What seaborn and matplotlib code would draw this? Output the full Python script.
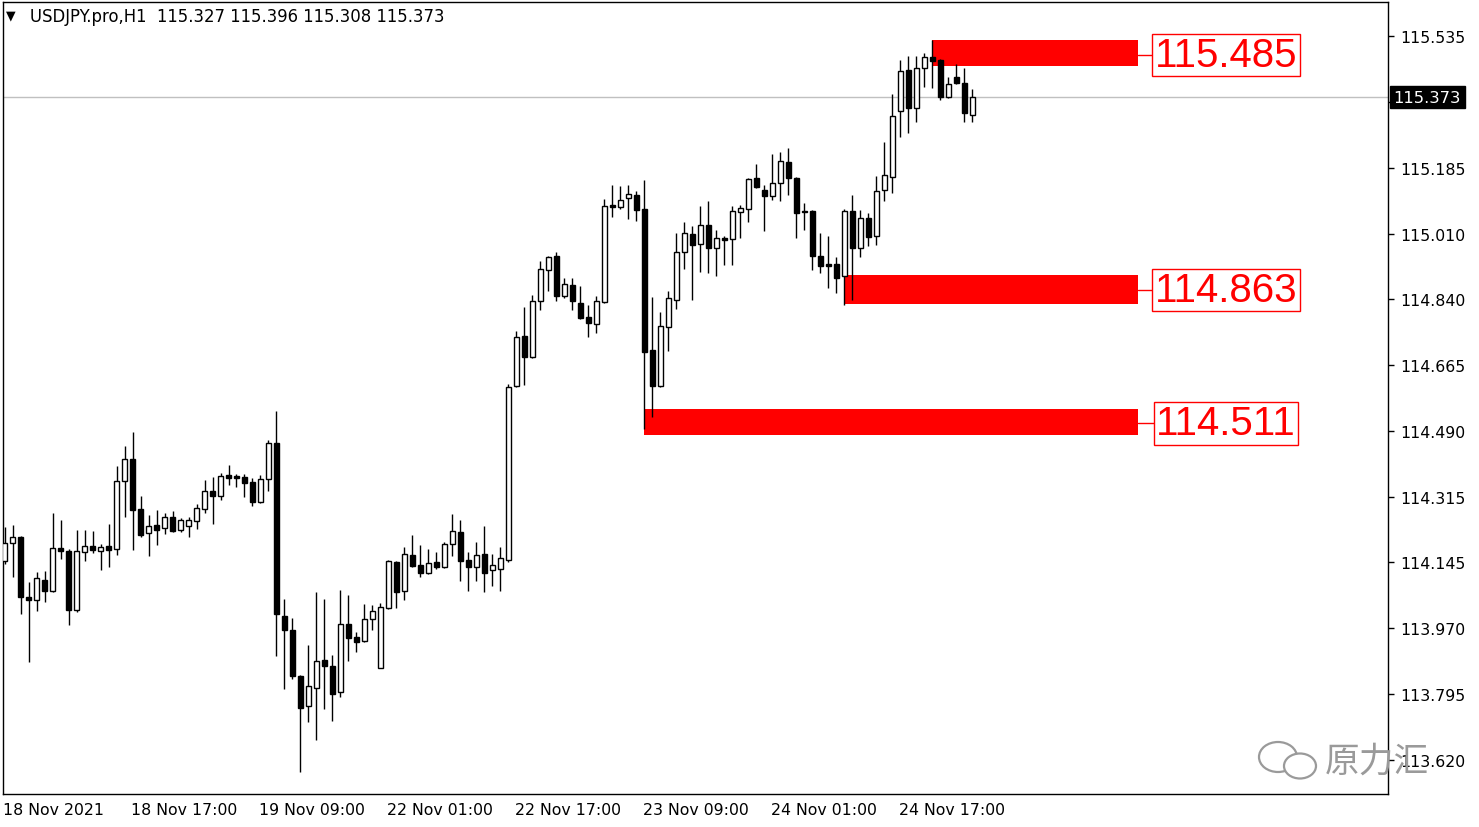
import matplotlib
matplotlib.use("Agg")
import matplotlib.pyplot as plt
import matplotlib.transforms as mtransforms
from matplotlib.patches import Ellipse
import numpy as np
import seaborn as sns

# USDJPY H1 candles
opens = [114.146, 114.194, 114.210, 114.051, 114.043, 114.096, 114.067, 114.181, 114.173, 114.017,
         114.170, 114.186, 114.173, 114.186, 114.178, 114.358, 114.416, 114.284, 114.221, 114.242,
         114.234, 114.263, 114.228, 114.239, 114.252, 114.284, 114.332, 114.318, 114.374, 114.372,
         114.369, 114.356, 114.303, 114.364, 114.459, 114.001, 113.964, 113.842, 113.763, 113.811,
         113.885, 113.869, 113.800, 113.980, 113.946, 113.935, 113.993, 113.864, 114.022, 114.144,
         114.067, 114.162, 114.136, 114.115, 114.144, 114.131, 114.191, 114.223, 114.149, 114.131,
         114.165, 114.123, 114.125, 114.149, 114.609, 114.742, 114.686, 114.834, 114.916, 114.953,
         114.847, 114.877, 114.829, 114.792, 114.773, 114.832, 115.088, 115.083, 115.107, 115.115,
         115.078, 114.705, 114.609, 114.765, 114.837, 114.964, 115.011, 114.985, 115.035, 114.974,
         115.001, 114.998, 115.070, 115.078, 115.160, 115.128, 115.112, 115.146, 115.202, 115.160,
         115.072, 115.072, 114.953, 114.932, 114.932, 114.900, 115.072, 114.974, 115.054, 115.006,
         115.128, 115.162, 115.337, 115.445, 115.345, 115.451, 115.480, 115.472, 115.374, 115.427,
         115.411, 115.327]
highs = [114.236, 114.242, 114.212, 114.091, 114.117, 114.120, 114.273, 114.255, 114.178, 114.228,
         114.228, 114.226, 114.191, 114.244, 114.398, 114.451, 114.488, 114.318, 114.268, 114.281,
         114.273, 114.279, 114.260, 114.263, 114.297, 114.361, 114.369, 114.379, 114.400, 114.377,
         114.377, 114.366, 114.374, 114.467, 114.543, 114.046, 113.996, 113.844, 113.924, 114.065,
         114.046, 113.898, 114.070, 114.057, 113.959, 114.033, 114.030, 114.035, 114.148, 114.146,
         114.184, 114.215, 114.189, 114.178, 114.170, 114.197, 114.271, 114.255, 114.170, 114.197,
         114.239, 114.165, 114.184, 114.615, 114.755, 114.818, 114.850, 114.940, 114.953, 114.964,
         114.895, 114.895, 114.874, 114.824, 114.847, 115.104, 115.141, 115.138, 115.141, 115.125,
         115.154, 114.845, 114.805, 114.861, 115.014, 115.043, 115.033, 115.086, 115.099, 115.022,
         115.006, 115.086, 115.088, 115.160, 115.197, 115.141, 115.223, 115.228, 115.239, 115.162,
         115.093, 115.075, 115.014, 115.006, 114.951, 115.078, 115.115, 115.075, 115.067, 115.165,
         115.255, 115.382, 115.472, 115.482, 115.482, 115.490, 115.525, 115.474, 115.427, 115.461,
         115.451, 115.396]
lows = [114.139, 114.104, 114.006, 113.879, 114.014, 114.038, 114.064, 114.152, 113.977, 114.012,
        114.146, 114.168, 114.123, 114.131, 114.162, 114.263, 114.176, 114.210, 114.160, 114.189,
        114.218, 114.224, 114.223, 114.210, 114.231, 114.273, 114.244, 114.308, 114.347, 114.342,
        114.316, 114.292, 114.300, 114.332, 113.895, 113.808, 113.834, 113.588, 113.721, 113.673,
        113.755, 113.723, 113.787, 113.882, 113.906, 113.932, 113.964, 113.862, 114.020, 114.022,
        114.043, 114.131, 114.104, 114.112, 114.125, 114.129, 114.160, 114.094, 114.067, 114.094,
        114.064, 114.080, 114.067, 114.144, 114.607, 114.612, 114.684, 114.810, 114.861, 114.834,
        114.842, 114.810, 114.787, 114.739, 114.750, 114.829, 115.056, 115.078, 115.051, 115.046,
        114.496, 114.527, 114.607, 114.702, 114.813, 114.919, 114.837, 114.911, 114.908, 114.900,
        114.929, 114.929, 115.001, 115.043, 115.134, 115.019, 115.101, 115.099, 115.115, 115.001,
        115.022, 114.916, 114.908, 114.869, 114.855, 114.824, 114.837, 114.951, 114.980, 114.982,
        115.099, 115.120, 115.268, 115.279, 115.308, 115.400, 115.398, 115.366, 115.371, 115.409,
        115.308, 115.308]
closes = [114.194, 114.210, 114.051, 114.043, 114.102, 114.067, 114.181, 114.173, 114.017, 114.173,
          114.186, 114.176, 114.184, 114.176, 114.358, 114.416, 114.281, 114.215, 114.239, 114.228,
          114.263, 114.226, 114.255, 114.255, 114.287, 114.332, 114.318, 114.372, 114.366, 114.366,
          114.353, 114.303, 114.364, 114.459, 114.006, 113.964, 113.842, 113.758, 113.816, 113.882,
          113.869, 113.795, 113.980, 113.943, 113.932, 113.993, 114.014, 114.025, 114.146, 114.064,
          114.165, 114.133, 114.115, 114.141, 114.131, 114.191, 114.226, 114.146, 114.131, 114.162,
          114.115, 114.136, 114.154, 114.607, 114.739, 114.686, 114.834, 114.919, 114.951, 114.847,
          114.879, 114.834, 114.789, 114.776, 114.834, 115.086, 115.083, 115.101, 115.117, 115.075,
          114.699, 114.609, 114.768, 114.842, 114.964, 115.014, 114.982, 115.035, 114.974, 115.001,
          114.996, 115.072, 115.080, 115.157, 115.136, 115.112, 115.146, 115.205, 115.160, 115.067,
          115.070, 114.953, 114.927, 114.927, 114.895, 115.072, 114.974, 115.054, 115.004, 115.125,
          115.168, 115.324, 115.443, 115.345, 115.451, 115.480, 115.469, 115.374, 115.408, 115.411,
          115.331, 115.373]

date_pos = [0, 16, 32, 48, 64, 80, 96, 112]
date_labels = ["18 Nov 2021", "18 Nov 17:00", "19 Nov 09:00", "22 Nov 01:00",
               "22 Nov 17:00", "23 Nov 09:00", "24 Nov 01:00", "24 Nov 17:00"]
price_ticks = [115.535, 115.360, 115.185, 115.010, 114.840, 114.665, 114.490,
               114.315, 114.145, 113.970, 113.795, 113.620]

# red zones: first bar, top, bottom, label value
zone_start = [116, 105, 80]
zone_top = [115.525, 114.903, 114.549]
zone_bottom = [115.456, 114.826, 114.480]
zone_value = [115.485, 114.863, 114.511]

last_price = 115.373

sns.set_style("white")
plt.rcParams["font.family"] = ["DejaVu Sans"]

W, H = 1479, 828
fig = plt.figure(figsize=(W / 100, H / 100), dpi=100)
ax = fig.add_axes([3 / W, 1 - 795 / H, (1388 - 3) / W, (795 - 3) / H])

o = np.array(opens)
h = np.array(highs)
l = np.array(lows)
c = np.array(closes)
idx = np.arange(len(o))
up = c >= o

# zones
zone_end = 141.75
for s, t, b, v in zip(zone_start, zone_top, zone_bottom, zone_value):
    ax.fill_between([s, zone_end], b, t, color="#ff0000", lw=0, zorder=1)
    ax.plot([zone_end, 145.5], [v, v], color="#ff0000", lw=1, zorder=1)
    ax.text(152.75, v, "%.3f" % v, ha="center", va="center", color="#ff0000",
            fontsize=29, family="Liberation Sans", zorder=4,
            bbox=dict(boxstyle="square,pad=0.06", fc="white", ec="#ff0000", lw=1))

# current price line
ax.axhline(last_price, color="#c0c0c0", lw=1, zorder=0.5)

# candles
ax.vlines(idx, l, h, color="black", lw=1, zorder=2)
body_w = 0.62
ax.bar(idx[up], np.maximum(c[up] - o[up], 0.0015), bottom=o[up], width=body_w,
       facecolor="white", edgecolor="black", lw=1, zorder=3)
ax.bar(idx[~up], np.maximum(o[~up] - c[~up], 0.0015), bottom=c[~up], width=body_w,
       facecolor="black", edgecolor="black", lw=1, zorder=3)

ax.set_xlim(-0.125, 173)
ax.set_ylim(113.530, 115.625)

for sp in ax.spines.values():
    sp.set_color("black")
    sp.set_linewidth(1)

ax.yaxis.tick_right()
ax.set_yticks(price_ticks)
# the 115.360 label sits under the last-price tag
ax.set_yticklabels(["" if p == 115.360 else "%.3f" % p for p in price_ticks])
ax.set_xticks([p - 0.2 for p in date_pos])
ax.set_xticklabels(date_labels)
ax.tick_params(axis="both", direction="out", length=4, width=1, color="black",
               labelsize=11.3, labelcolor="black")
ax.tick_params(axis="y", pad=5)
ax.tick_params(axis="x", pad=2)
for lab in ax.get_xticklabels():
    lab.set_horizontalalignment("left")

# last price tag on the scale
trans = mtransforms.blended_transform_factory(ax.transAxes, ax.transData)
ax.text(1.004, last_price, "%.3f" % last_price, transform=trans, ha="left", va="center",
        color="white", fontsize=11.8, zorder=10, clip_on=False,
        bbox=dict(boxstyle="square,pad=0.22", fc="black", ec="black"))

# header
fig.text(6 / W, 1 - 16 / H, "\u25bc", fontsize=9, va="center", ha="left", color="black")
fig.text(30 / W, 1 - 17 / H, "USDJPY.pro,H1  115.327 115.396 115.308 115.373",
         fontsize=11.9, va="center", ha="left", color="black")

# watermark
wm = "#9a9a9a"
fig.patches.append(Ellipse((1278 / W, 1 - 758 / H), 38 / W, 30 / H, transform=fig.transFigure,
                           fill=False, ec=wm, lw=1.6))
fig.patches.append(Ellipse((1300 / W, 1 - 767 / H), 32 / W, 25 / H, transform=fig.transFigure,
                           fc="white", ec=wm, lw=1.6))
fig.text(1325 / W, 1 - 762 / H, "原力汇", fontsize=25, va="center", ha="left", color=wm,
         family=["Noto Sans CJK SC", "DejaVu Sans"])

fig.savefig("out.png", dpi=100, facecolor="white")
